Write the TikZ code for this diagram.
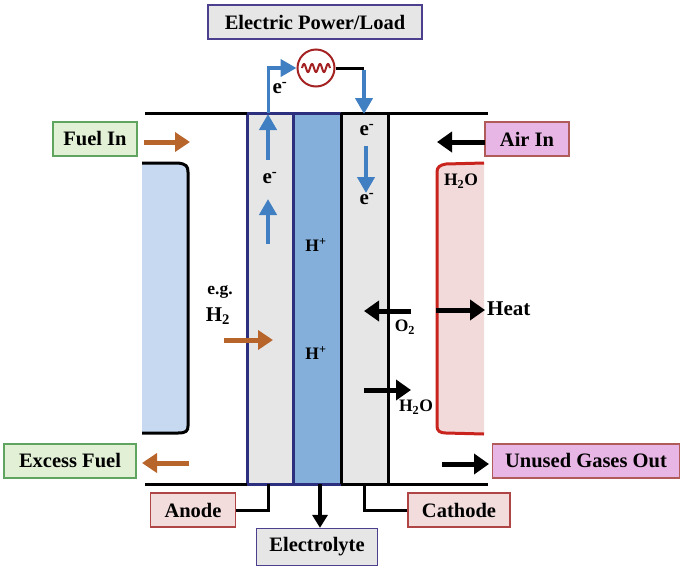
\documentclass[tikz,border=0pt]{standalone}
\usepackage{fontspec}
\setmainfont{Liberation Serif}
\usetikzlibrary{arrows.meta}
\definecolor{navy}{HTML}{2B2F7E}
\definecolor{cellgray}{HTML}{E6E6E6}
\definecolor{elecblue}{HTML}{84AFDA}
\definecolor{wireblue}{HTML}{3F7FC2}
\definecolor{orng}{HTML}{B8652C}
\definecolor{fuelfill}{HTML}{C6D9F0}
\definecolor{airfill}{HTML}{F2DADA}
\definecolor{redline}{HTML}{C8231C}
\definecolor{greenfill}{HTML}{E2F0D6}
\definecolor{greenline}{HTML}{5FA560}
\definecolor{pinkfill}{HTML}{E8B6E5}
\definecolor{pinkline}{HTML}{B05A5A}
\definecolor{rosefill}{HTML}{F2DCDC}
\definecolor{roseline}{HTML}{B04545}
\definecolor{purpline}{HTML}{4B3F8E}
\definecolor{loadred}{HTML}{A52222}
\begin{document}
\begin{tikzpicture}[x=1pt,y=-1pt,
  lbl/.style={draw, line width=1.3pt, inner sep=0pt, minimum height=34pt, font=\fontsize{20.5}{20.5}\selectfont\bfseries},
  greenbox/.style={lbl, fill=greenfill, draw=greenline},
  pinkbox/.style={lbl, fill=pinkfill, draw=pinkline},
  rosebox/.style={lbl, fill=rosefill, draw=roseline},
  graybox/.style={lbl, fill=cellgray, draw=purpline},
  txt/.style={inner sep=0pt, font=\fontsize{21}{21}\selectfont\bfseries},
  stxt/.style={inner sep=0pt, font=\fontsize{17.5}{17.5}\selectfont\bfseries},
  orarrow/.style={draw=orng, line width=5pt, -{Triangle[length=15pt,width=19pt]}},
  blkarrow/.style={draw=black, line width=5pt, -{Triangle[length=15pt,width=20pt]}},
  bluearrow/.style={draw=wireblue, line width=4.5pt, -{Triangle[length=16pt,width=17pt]}},
  wire/.style={line width=3pt},
  blkline/.style={draw=black, line width=3pt}]
\useasboundingbox (0,0) rectangle (685,571);

% fuel channel (left)
\fill[fuelfill] (142,163) -- (178,163) .. controls (186,164) and (188,166) .. (188,172) -- (188,426) .. controls (188,431) and (186,433) .. (178,433) -- (142,433) -- cycle;
\draw[line width=3pt] (142,163) -- (178,163) .. controls (186,164) and (188,166) .. (188,172) -- (188,426) .. controls (188,431) and (186,433) .. (178,433) -- (142,433);

% air channel (right)
\fill[airfill] (484,163) -- (446,164) .. controls (440,165) and (437,167) .. (437,172) -- (437,426) .. controls (437,431) and (440,433) .. (446,433) -- (484,434) -- cycle;
\draw[redline, line width=3pt] (484,163) -- (446,164) .. controls (440,165) and (437,167) .. (437,172) -- (437,426) .. controls (437,431) and (440,433) .. (446,433) -- (484,434);

% cell layers
\fill[cellgray] (247,113) rectangle (293,484);
\fill[elecblue] (293,113) rectangle (341,484);
\fill[cellgray] (341,113) rectangle (388,484);
\draw[navy, line width=3pt] (247,113) rectangle (293,484);
\draw[navy, line width=3pt] (293,113) -- (341,113);
\draw[navy, line width=3pt] (293,484) -- (341,484);
\draw[line width=3pt] (341,113) -- (341,484);
\draw[line width=3pt] (388,113) -- (388,484);

% top and bottom lines
\draw[line width=3pt] (145,113) -- (247,113);
\draw[line width=3pt] (341,113) -- (488,113);
\draw[line width=3pt] (145,484) -- (247,484);
\draw[line width=3pt] (341,484) -- (488,484);

% boxes
\node[graybox, minimum width=214pt] (load) at (315,22) {Electric Power/Load};
\node[greenbox, minimum width=84pt] (fuelin) at (95,139) {Fuel In};
\node[pinkbox, minimum width=84pt] (airin) at (527,139) {Air In};
\node[greenbox, minimum width=132pt] (excess) at (70,461) {Excess Fuel};
\node[pinkbox, minimum width=187pt] (unused) at (586,461) {Unused Gases Out};
\node[rosebox, minimum width=85pt] (anode) at (193,510) {Anode};
\node[rosebox, minimum width=102pt] (cathode) at (459,510) {Cathode};
\node[graybox, minimum width=121pt, minimum height=37pt] (electrolyte) at (317,547) {Electrolyte};

% load symbol
\node[draw=loadred, circle, line width=2pt, minimum size=37pt, inner sep=0pt] (res) at (316,68) {};
\draw[loadred, line width=2pt, domain=0:21.99, samples=80] plot ({302+\x*28/21.99}, {68-4*sin(\x r)});

% circuit
\coordinate (atop) at (268,113);
\coordinate (acorner) at (268,68);
\coordinate (ccorner) at (364,68);
\coordinate (ctop) at (364,114);
\draw[wireblue, wire] (atop) -- (acorner);
\draw[bluearrow] ([xshift=-1.5pt]acorner) -- (res.west);
\draw[blkline] (res.east) -- (ccorner);
\draw[bluearrow] ([yshift=-1.5pt]ccorner) -- (ctop);

% electron arrows
\coordinate (e1s) at (268,160); \coordinate (e1e) at (268,114);
\coordinate (e2s) at (268,244); \coordinate (e2e) at (268,199);
\coordinate (e3s) at (366,146); \coordinate (e3e) at (366,193);
\draw[bluearrow] (e1s) -- (e1e);
\draw[bluearrow] (e2s) -- (e2e);
\draw[bluearrow] (e3s) -- (e3e);

\node[txt] (em0) at (280,88) {e\textsuperscript{-}};
\node[txt] (em1) at (270,178) {e\textsuperscript{-}};
\node[txt] (em2) at (367,130) {e\textsuperscript{-}};
\node[txt] (em3) at (367,199) {e\textsuperscript{-}};

\node[stxt] (hp1) at (316,245) {H\textsuperscript{+}};
\node[stxt] (hp2) at (316,353) {H\textsuperscript{+}};

\node[stxt] (eg) at (220,292) {e.g.};
\node[txt] (h2) at (218,316) {H\textsubscript{2}};

\node[stxt] (o2) at (405,327) {O\textsubscript{2}};
\node[stxt] (h2o) at (416,407) {H\textsubscript{2}O};
\node[stxt] (h2otop) at (461,181) {H\textsubscript{2}O};
\node[txt, anchor=west] (heat) at (487,309) {Heat};

% flow arrows
\coordinate (fa) at (144,142); \coordinate (fb) at (190,142);
\coordinate (xa) at (189,463); \coordinate (xb) at (142,463);
\coordinate (ga) at (224,340); \coordinate (gb) at (273,340);
\draw[orarrow] (fa) -- (fb);
\draw[orarrow] (xa) -- (xb);
\draw[orarrow] (ga) -- (gb);

\coordinate (aa) at (485,142); \coordinate (ab) at (437,142);
\coordinate (ua) at (442,464); \coordinate (ub) at (489,464);
\coordinate (oa) at (411,311); \coordinate (ob) at (364,311);
\coordinate (wa) at (364,390); \coordinate (wb) at (411,390);
\coordinate (ha) at (436,310); \coordinate (hb) at (485,310);
\draw[blkarrow] (aa) -- (ab);
\draw[blkarrow] (ua) -- (ub);
\draw[blkarrow] (oa) -- (ob);
\draw[blkarrow] (wa) -- (wb);
\draw[blkarrow] (ha) -- (hb);

% labels to cell
\coordinate (anodept) at (268,484);
\coordinate (cathpt) at (364,484);
\coordinate (elecpt) at (320,484);
\draw[blkline] (anode.east) -| (anodept);
\draw[blkline] (cathode.west) -| (cathpt);
\draw[black, line width=3.5pt, -{Triangle[length=13pt,width=15pt]}] (elecpt) -- (elecpt |- electrolyte.north);
\end{tikzpicture}
\end{document}
